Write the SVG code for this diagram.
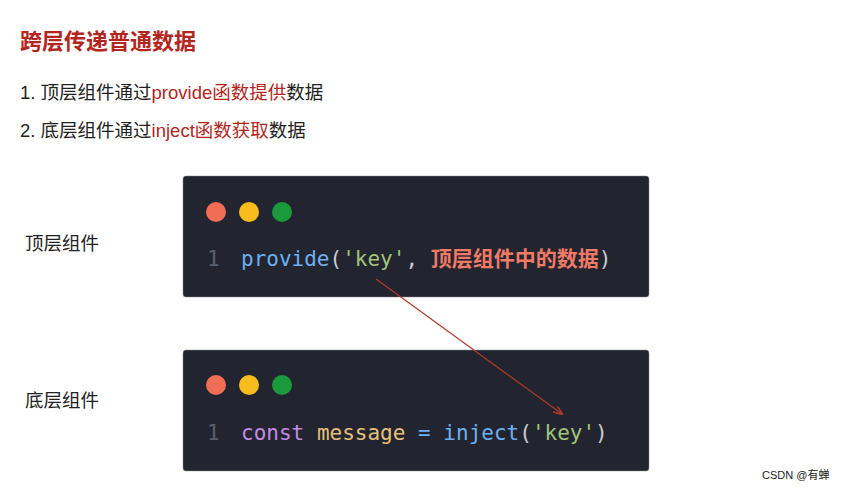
<svg xmlns="http://www.w3.org/2000/svg" width="846" height="490" viewBox="0 0 846 490">
<style>
.t{font-family:"Liberation Sans","Noto Sans CJK SC",sans-serif;fill:#222}
.r{fill:#b3261e}
.code{font-family:"DejaVu Sans Mono","Noto Sans CJK SC",monospace;font-size:21px}
.box{fill:#22252f;stroke:#888;stroke-width:0.5}
</style>
<defs><marker id="ah" markerWidth="10" markerHeight="8" refX="9" refY="4" orient="auto" markerUnits="userSpaceOnUse"><path d="M0,0 L10,4 L0,8" fill="none" stroke="#b33a2a" stroke-width="1.5"/></marker></defs>
<rect width="846" height="490" fill="#fff"/>
<text class="t r" x="20" y="49" font-size="22" font-weight="bold">跨层传递普通数据</text>
<text class="t" x="20" y="99" font-size="18.5">1. 顶层组件通过<tspan class="r">provide函数提供</tspan>数据</text>
<text class="t" x="20" y="137" font-size="18.5">2. 底层组件通过<tspan class="r">inject函数获取</tspan>数据</text>
<text class="t" x="25" y="250" font-size="18.5">顶层组件</text>
<text class="t" x="25" y="407" font-size="18.5">底层组件</text>
<g id="top">
<rect class="box" x="183" y="176" width="466" height="121" rx="3"/>
<circle cx="216" cy="212" r="10" fill="#f26d56"/><circle cx="249" cy="212" r="10" fill="#f8bc1d"/><circle cx="282" cy="212" r="10" fill="#1a9a3a"/>
<text class="code" x="207" y="266" fill="#5a5e6a">1</text>
<text class="code" x="241" y="266"><tspan fill="#6cb0f0">provide</tspan><tspan fill="#c8ccd4">(</tspan><tspan fill="#a3c47a">'key'</tspan><tspan fill="#c8ccd4">, </tspan><tspan fill="#f07a66" font-weight="bold">顶层组件中的数据</tspan><tspan fill="#c8ccd4">)</tspan></text>
</g>
<g id="bottom">
<rect class="box" x="183" y="350" width="466" height="121" rx="3"/>
<circle cx="216" cy="385" r="10" fill="#f26d56"/><circle cx="249" cy="385" r="10" fill="#f8bc1d"/><circle cx="282" cy="385" r="10" fill="#1a9a3a"/>
<text class="code" x="207" y="440" fill="#5a5e6a">1</text>
<text class="code" x="241" y="440"><tspan fill="#c58ae0">const</tspan> <tspan fill="#e5c07b">message</tspan> <tspan fill="#6cb0f0">=</tspan> <tspan fill="#6cb0f0">inject</tspan><tspan fill="#c8ccd4">(</tspan><tspan fill="#a3c47a">'key'</tspan><tspan fill="#c8ccd4">)</tspan></text>
</g>
<g id="connectors">
<line x1="376" y1="279" x2="562" y2="414" stroke="#b33a2a" stroke-width="1.3" marker-end="url(#ah)"/>
</g>
<text class="t" x="762" y="479" font-size="11" fill="#666">CSDN @有蝉</text>
</svg>
